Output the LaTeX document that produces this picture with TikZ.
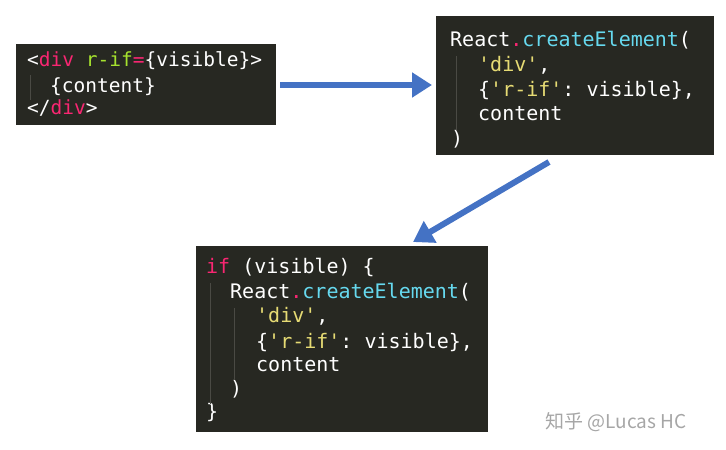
\documentclass[tikz,border=0pt]{standalone}
\usepackage{fontspec}
\usetikzlibrary{arrows.meta}
\setmonofont{DejaVu Sans Mono}
\newfontfamily\cjk{Noto Sans CJK SC}
\definecolor{bgc}{HTML}{272822}
\definecolor{kw}{HTML}{F92672}
\definecolor{at}{HTML}{A6E22E}
\definecolor{st}{HTML}{E6DB74}
\definecolor{fn}{HTML}{66D9EF}
\definecolor{arr}{HTML}{4472C4}
\definecolor{guide}{HTML}{4A4A44}
\begin{document}
\begin{tikzpicture}[x=1pt,y=-1pt,
  codebox/.style={fill=bgc,draw=none},
  ln/.style={anchor=base west,inner sep=0pt,text=white,font=\ttfamily\fontsize{20}{20}\selectfont},
  lnsmall/.style={ln,font=\ttfamily\fontsize{19.5}{20}\selectfont},
  bigarrow/.style={arr,line width=6pt,-{Triangle[length=20pt,width=24pt]}},
  guideline/.style={guide,line width=1pt}]
\useasboundingbox (0,0) rectangle (726,450);
\fill[codebox] (16,44) rectangle (276,125);
\fill[codebox] (436,16) rectangle (714,155);
\fill[codebox] (196,246) rectangle (488,432);
% box1
\node[lnsmall] (a1) at (27,66) {<\textcolor{kw}{div} \textcolor{at}{r-if}\textcolor{kw}{=}\{visible\}>};
\node[lnsmall] (a2) at (50,92) {\{content\}};
\node[lnsmall] (a3) at (27,114) {</\textcolor{kw}{div}>};
\draw[guideline] (30,75) -- (30,100);
% box2
\node[ln] (b1l) at (450,46) {React\textcolor{kw}{.}\textcolor{fn}{createElement}(};
\node[ln] (b2l) at (478,71) {\textcolor{st}{'div'},};
\node[ln] (b3l) at (478,96) {\{\textcolor{st}{'r-if'}: visible\},};
\node[ln] (b4l) at (478,120) {content};
\node[ln] (b5l) at (451,145) {)};
\draw[guideline] (456,56) -- (456,130);
% box3
\node[ln] (c1) at (206,273) {\textcolor{kw}{if} (visible) \{};
\node[ln] (c2) at (230,298) {React\textcolor{kw}{.}\textcolor{fn}{createElement}(};
\node[ln] (c3) at (256,322) {\textcolor{st}{'div'},};
\node[ln] (c4) at (256,348) {\{\textcolor{st}{'r-if'}: visible\},};
\node[ln] (c5) at (256,371) {content};
\node[ln] (c6) at (230,395) {)};
\node[ln] (c7) at (206,418) {\}};
\draw[guideline] (210,283) -- (210,404);
\draw[guideline] (234,308) -- (234,380);
% arrows
\coordinate (p1) at (280,85);
\coordinate (p2) at (432,85);
\coordinate (q1) at (549,162);
\coordinate (q2) at (413,242);
\draw[bigarrow] (p1) -- (p2);
\draw[bigarrow] (q1) -- (q2);
\node[anchor=base west,inner sep=0pt,text=black!35,font=\cjk\fontsize{19}{19}\selectfont] (wm) at (545,428) {知乎 @Lucas HC};
\end{tikzpicture}
\end{document}
